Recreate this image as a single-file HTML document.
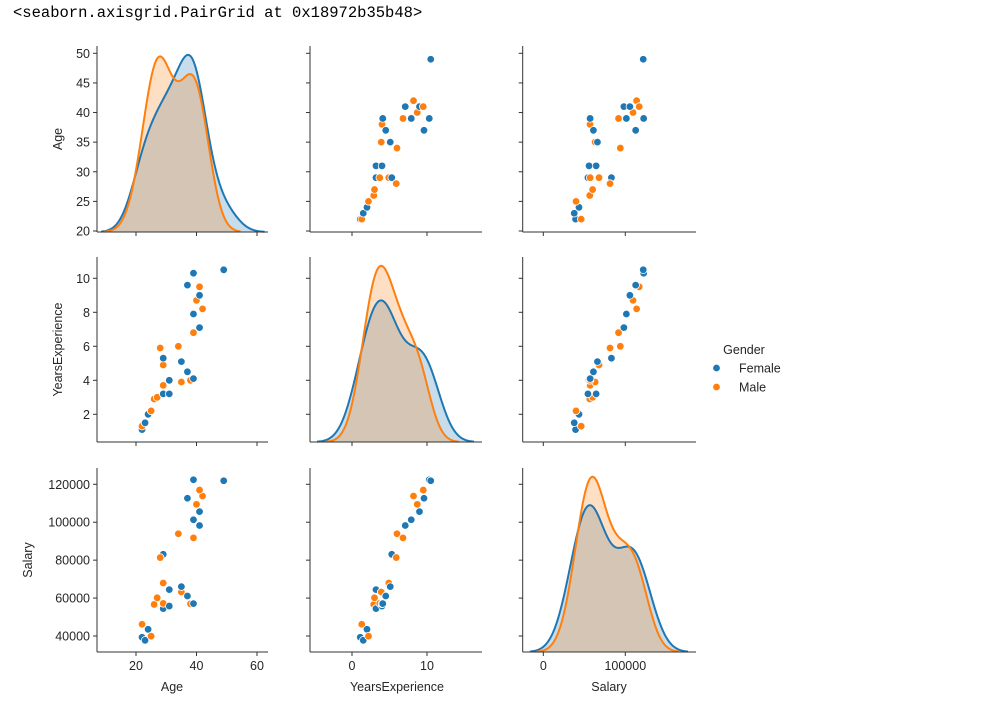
<!DOCTYPE html>
<html><head><meta charset="utf-8">
<style>
html,body{margin:0;padding:0;background:#fff;}
body{width:997px;height:703px;overflow:hidden;position:relative;}
#hdr{position:absolute;left:13px;top:4px;font-family:"Liberation Mono",monospace;font-size:15.5px;color:#000;white-space:pre;}
svg{position:absolute;left:0;top:0;}
text{font-family:"Liberation Sans","DejaVu Sans",sans-serif;fill:#262626;}
</style></head>
<body>
<div id="hdr">&lt;seaborn.axisgrid.PairGrid at 0x18972b35b48&gt;</div>
<svg id="chart" width="997" height="703" xmlns="http://www.w3.org/2000/svg"></svg>
<script>
// ---- data ----
const age = [22,22,23,24,25,26,27,29,31,29,35,31,38,39,37,29,35,29,28,34,39,41,39,42,40,41,41,37,39,49];
const experience = [1.1,1.3,1.5,2.0,2.2,2.9,3.0,3.2,3.2,3.7,3.9,4.0,4.0,4.1,4.5,4.9,5.1,5.3,5.9,6.0,6.8,7.1,7.9,8.2,8.7,9.0,9.5,9.6,10.3,10.5];
const salary = [39343,46205,37731,43525,39891,56642,60150,54445,64445,57189,63218,55794,56957,57081,61111,67938,66029,83088,81363,93940,91738,98273,101302,113812,109431,105582,116969,112635,122391,121872];
const gender = ["F","M","F","F","M","M","M","F","F","M","M","F","M","F","F","M","F","F","M","M","M","F","F","M","M","F","M","F","F","F"];
const hues = ["F","M"];
const hueLabels = ["Female","Male"];
const ageTicks = [20,25,30,35,40,45,50];
const ageXTicks = [20,40,60];
const expTicks = [2,4,6,8,10];
const expXTicks = [0,10];
const salTicks = [40000,60000,80000,100000,120000];
const salXTicks = [0,100000];

const colors = {F:"#1f77b4", M:"#ff7f0e"};
const NS = "http://www.w3.org/2000/svg";
const svg = document.getElementById("chart");
function mk(tag, attrs, parent){const e=document.createElementNS(NS,tag);for(const k in attrs)e.setAttribute(k,attrs[k]);(parent||svg).appendChild(e);return e;}

function lin(d0,d1,r0,r1){return v=>r0+(v-d0)*(r1-r0)/(d1-d0);}
const vars = [
 {name:"Age", data:age, xTicks:ageXTicks, yTicks:ageTicks, sx:lin(20,60,136,257), sy:lin(20,50,231,53.3)},
 {name:"YearsExperience", data:experience, xTicks:expXTicks, yTicks:expTicks, sx:lin(0,10,352,427), sy:lin(2,10,414.3,278.3)},
 {name:"Salary", data:salary, xTicks:salXTicks, yTicks:salTicks, sx:lin(0,100000,543.3,625.3), sy:lin(40000,120000,636,484.3)}
];
const colL=[97,310,522.7], colR=[268,482,696];
const rowT=[46,257,468], rowB=[232,442,652];

function quant(s,q){const p=(s.length-1)*q,i=Math.floor(p),f=p-i;return s[i]+(i+1<s.length?(s[i+1]-s[i])*f:0);}
function kde(vals){
  const n=vals.length, m=vals.reduce((a,b)=>a+b,0)/n;
  const sd=Math.sqrt(vals.reduce((a,b)=>a+(b-m)*(b-m),0)/(n-1));
  const s=[...vals].sort((a,b)=>a-b);
  const iqr=(quant(s,0.75)-quant(s,0.25))/1.349;
  const A=Math.min(sd, iqr>0?iqr:sd);
  const bw=1.059*A*Math.pow(n,-0.2);
  const lo=s[0]-3*bw, hi=s[n-1]+3*bw;
  const xs=[],ys=[];
  for(let i=0;i<=200;i++){const x=lo+(hi-lo)*i/200;let t=0;for(const v of vals){const z=(x-v)/bw;t+=Math.exp(-0.5*z*z);}xs.push(x);ys.push(t/(n*bw*Math.sqrt(2*Math.PI)));}
  return {xs,ys};
}

for(let r=0;r<3;r++){
  for(let c=0;c<3;c++){
    const g=mk("g",{});
    
    
    const L=colL[c],R=colR[c],T=rowT[r],B=rowB[r];
    const sx=vars[c].sx, sy=vars[r].sy;
    if(r===c){
      const ks=hues.map(h=>kde(vars[c].data.filter((v,i)=>gender[i]===h)));
      const ymax=Math.max(...ks.map(k=>Math.max(...k.ys)))*1.05;
      const dy=v=>B-(v/ymax)*(B-T);
      hues.forEach((h,hi)=>{
        const k=ks[hi];
        let d="M"+sx(k.xs[0]).toFixed(2)+","+B;
        k.xs.forEach((x,i)=>{d+=" L"+sx(x).toFixed(2)+","+dy(k.ys[i]).toFixed(2);});
        d+=" L"+sx(k.xs[k.xs.length-1]).toFixed(2)+","+B+" Z";
        const f=mk("path",{d:d,fill:colors[h],"fill-opacity":0.25,stroke:"none"},g);
        
        
      });
      hues.forEach((h,hi)=>{
        const k=ks[hi];
        let d="";
        k.xs.forEach((x,i)=>{d+=(i?" L":"M")+sx(x).toFixed(2)+","+dy(k.ys[i]).toFixed(2);});
        const l=mk("path",{d:d,fill:"none",stroke:colors[h],"stroke-width":2},g);
        
        
      });
    } else {
      const xd=vars[c].data, yd=vars[r].data;
      for(let i=0;i<xd.length;i++){
        const p=mk("circle",{cx:sx(xd[i]).toFixed(2),cy:sy(yd[i]).toFixed(2),r:3.8,fill:colors[gender[i]],stroke:"#fff","stroke-width":0.8},g);
        
        
      }
    }
    mk("line",{x1:L,y1:T,x2:L,y2:B,stroke:"#333","stroke-width":1},g);
    mk("line",{x1:L,y1:B,x2:R,y2:B,stroke:"#333","stroke-width":1},g);
    vars[r].yTicks.forEach(v=>{
      const y=sy(v);
      mk("line",{x1:L-4,y1:y,x2:L,y2:y,stroke:"#333","stroke-width":1},g);
      if(c===0){const t=mk("text",{x:L-7,y:y+4.5,"text-anchor":"end","font-size":"12.5px"},g);t.textContent=String(v);
        
        }
    });
    vars[c].xTicks.forEach(v=>{
      const x=sx(v);
      mk("line",{x1:x,y1:B,x2:x,y2:B+4,stroke:"#333","stroke-width":1},g);
      if(r===2){const t=mk("text",{x:x,y:B+18,"text-anchor":"middle","font-size":"12.5px"},g);t.textContent=String(v);
        
        }
    });
  }
}
const xTitleX=[172,397,609];
vars.forEach((v,i)=>{
  const t=mk("text",{x:xTitleX[i],y:691,"text-anchor":"middle","font-size":"12.5px"});t.textContent=v.name;
  
  
});
const yTitleX=[62,62,32];
vars.forEach((v,i)=>{
  const cy=(rowT[i]+rowB[i])/2;
  const t=mk("text",{x:yTitleX[i],y:cy,"text-anchor":"middle","font-size":"12.5px",transform:"rotate(-90 "+yTitleX[i]+" "+cy+")"});t.textContent=v.name;
  
  
});
const lg=mk("g",{});


const lt=mk("text",{x:744,y:354,"text-anchor":"middle","font-size":"12.5px"},lg);lt.textContent="Gender";


hueLabels.forEach((lab,i)=>{
  const y=368+i*19;
  const d=mk("circle",{cx:716.5,cy:y,r:3.8,fill:colors[hues[i]],stroke:"#fff","stroke-width":0.8},lg);
  
  
  const t=mk("text",{x:739,y:y+4.5,"font-size":"12.5px"},lg);t.textContent=lab;
  
  
});
</script>
</body></html>
